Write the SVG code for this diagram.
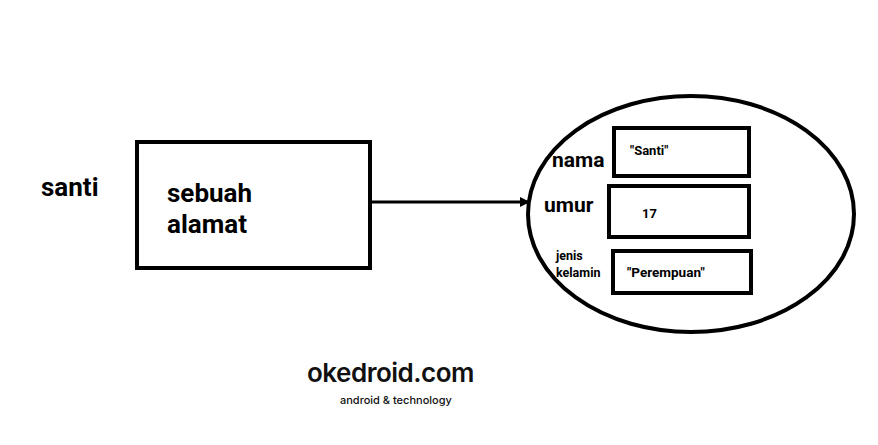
<svg xmlns="http://www.w3.org/2000/svg" width="878" height="445" viewBox="0 0 878 445">
<style>
.t{font-family:Roboto,"Liberation Sans",sans-serif;font-weight:bold;fill:#000}
.b{fill:#fff;stroke:#000;stroke-width:4}
.logo{font-family:Inter,"Liberation Sans",sans-serif;fill:#111}
</style>
<defs>
<marker id="ah" markerWidth="10" markerHeight="10" refX="9" refY="5" orient="auto" markerUnits="userSpaceOnUse">
<path d="M0,0 L10,5 L0,10 Z" fill="#000"/>
</marker>
</defs>
<rect width="878" height="445" fill="#fff"/>
<g id="var-santi"><text class="t" x="41" y="196" font-size="26">santi</text></g>
<g id="ref-box">
<rect class="b" x="137" y="142" width="233" height="126"/>
<text class="t" x="167" y="202" font-size="26">sebuah</text>
<text class="t" x="167" y="233" font-size="26">alamat</text>
</g>
<g id="connectors">
<line x1="370" y1="202" x2="529" y2="202" stroke="#000" stroke-width="3" marker-end="url(#ah)"/>
</g>
<g id="object">
<ellipse class="b" cx="691" cy="214" rx="163" ry="118"/>
<g id="nama">
<rect class="b" x="614" y="128" width="135" height="48"/>
<text class="t" x="552" y="167" font-size="21">nama</text>
<text class="t" x="630" y="155" font-size="13">"Santi"</text>
</g>
<g id="umur">
<rect class="b" x="609" y="186" width="140" height="51"/>
<text class="t" x="544" y="212" font-size="21">umur</text>
<text class="t" x="642" y="218" font-size="13">17</text>
</g>
<g id="jenis-kelamin">
<rect class="b" x="613" y="251" width="138" height="42"/>
<text class="t" x="556" y="260" font-size="12.5">jenis</text>
<text class="t" x="556" y="277" font-size="12.5">kelamin</text>
<text class="t" x="627" y="277" font-size="13.5">"Perempuan"</text>
</g>
</g>
<g id="logo">
<text class="logo" x="307" y="382" font-size="26" font-weight="600" letter-spacing="-0.5">okedroid.com</text>
<text class="logo" x="340" y="404" font-size="11" font-weight="500">android &amp; technology</text>
</g>
</svg>
